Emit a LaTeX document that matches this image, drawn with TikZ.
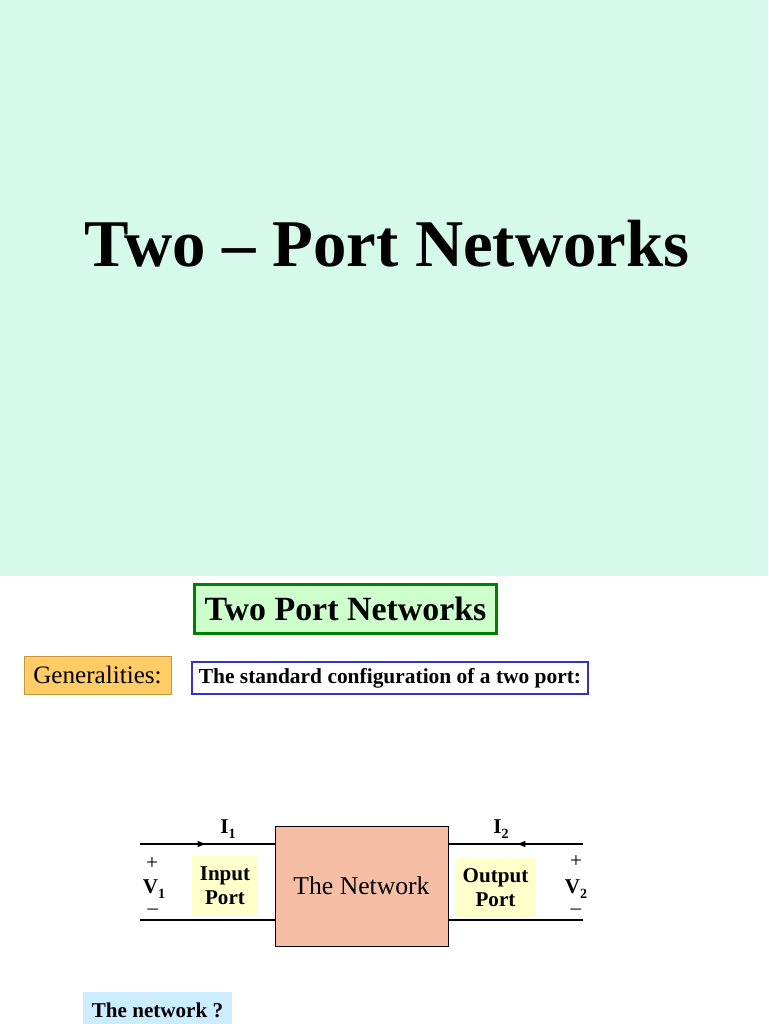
\documentclass[tikz,border=0pt]{standalone}
\usepackage{fontspec}
\setmainfont{Liberation Serif}
\usetikzlibrary{arrows.meta,decorations.markings}
\definecolor{mint}{RGB}{213,250,233}
\definecolor{titlegreen}{RGB}{0,128,0}
\definecolor{titlefill}{RGB}{204,255,204}
\definecolor{stdblue}{RGB}{51,51,204}
\definecolor{genfill}{RGB}{255,204,102}
\definecolor{gendraw}{RGB}{200,150,60}
\definecolor{netfill}{RGB}{245,190,165}
\definecolor{portfill}{RGB}{255,255,204}
\definecolor{askfill}{RGB}{204,236,255}
\newcommand{\lowsub}[1]{\raisebox{-0.55ex}{\fontsize{8}{8}\selectfont #1}}

\begin{document}
\begin{tikzpicture}[x=0.02cm, y=-0.02cm, >=Latex,
    wire/.style={line width=1.1pt},
    flowarrow/.style={postaction=decorate, decoration={markings,
        mark=at position #1 with {\arrow{Latex[length=5.5pt,width=3.8pt]}}}},
    portbox/.style={fill=portfill, inner sep=0pt, align=center,
        minimum height=1.18cm, font=\fontsize{12}{13.6}\selectfont\bfseries},
    sign/.style={font=\fontsize{12}{14}\selectfont, inner sep=0pt},
    volt/.style={font=\fontsize{12}{14}\selectfont\bfseries, inner sep=0pt}]
    % Page
    \useasboundingbox (0,0) rectangle (768,1024);
    \fill[mint] (0,0) rectangle (768,576);

    % Title slide
    \node[font=\fontsize{38}{44}\selectfont\bfseries] (title) at (387,244) {Two -- Port Networks};

    % Headings
    \node[draw=titlegreen, line width=1.7pt, fill=titlefill, minimum width=6.05cm, minimum height=0.97cm,
        font=\fontsize{19.3}{22}\selectfont\bfseries] (head) at (345.5,609) {Two Port Networks};
    \node[draw=gendraw, fill=genfill, minimum width=2.94cm, minimum height=0.76cm,
        font=\fontsize{14.3}{16}\selectfont] (gen) at (97.5,675) {Generalities:};
    \node[draw=stdblue, line width=1.4pt, minimum width=7.92cm, minimum height=0.63cm,
        font=\fontsize{12.2}{14}\selectfont\bfseries] (std) at (390,678) {The standard configuration of a two port:};

    % The two port
    \node[draw, fill=netfill, minimum width=3.46cm, minimum height=2.4cm,
        font=\fontsize{14.6}{17}\selectfont] (net) at (361.5,886) {The Network};
    \coordinate (in1) at (140,844);
    \coordinate (in2) at (140,920);
    \coordinate (out1) at (583,844);
    \coordinate (out2) at (583,920);
    \draw[wire, flowarrow=0.5] (in1) -- (net.west |- in1);
    \draw[wire] (in2) -- (net.west |- in2);
    \draw[wire, flowarrow=0.5] (out1) -- (net.east |- out1);
    \draw[wire] (out2) -- (net.east |- out2);

    % Currents and voltages
    \node[volt] (i1) at (228,829) {I\lowsub{1}};
    \node[volt] (i2) at (501,829) {I\lowsub{2}};
    \node[sign] (p1) at (152,864) {+};
    \node[volt] (v1) at (154,889) {V\lowsub{1}};
    \node[sign] (m1) at (153,912) {\textendash};
    \node[sign] (p2) at (576,862) {+};
    \node[volt] (v2) at (576,889) {V\lowsub{2}};
    \node[sign] (m2) at (576,912) {\textendash};

    % Ports
    \node[portbox, minimum width=1.32cm] (inport) at (225,885.5) {Input\\Port};
    \node[portbox, minimum width=1.62cm] (outport) at (495.5,887.5) {Output\\Port};

    % Question
    \node[fill=askfill, minimum width=2.98cm, minimum height=0.72cm,
        font=\fontsize{12}{14}\selectfont\bfseries] (ask) at (157.5,1010) {The network ?};
\end{tikzpicture}
\end{document}
